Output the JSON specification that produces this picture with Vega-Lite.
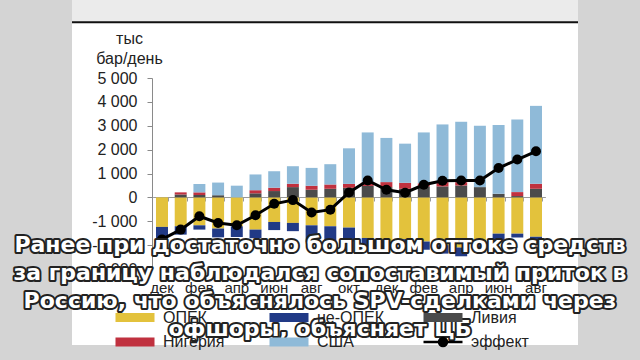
{
  "$schema": "https://vega.github.io/schema/vega-lite/v6.json",
  "width": 506,
  "height": 323,
  "autosize": "none",
  "padding": {"left": 72, "top": 22, "right": 62, "bottom": 15},
  "background": "#d4d4d4",
  "config": {
    "view": {"fill": "white", "stroke": null},
    "font": "Liberation Sans"
  },
  "datasets": {
    "bars": [
      {"m": "дек 16", "s": "ОПЕК", "v": -1237}, {"m": "дек 16", "s": "не-ОПЕК", "v": -520},
      {"m": "янв 17", "s": "ОПЕК", "v": -1210}, {"m": "янв 17", "s": "не-ОПЕК", "v": -350}, {"m": "янв 17", "s": "Ливия", "v": 120}, {"m": "янв 17", "s": "Нигерия", "v": 90},
      {"m": "фев 17", "s": "ОПЕК", "v": -1170}, {"m": "фев 17", "s": "не-ОПЕК", "v": -180}, {"m": "фев 17", "s": "Ливия", "v": 100}, {"m": "фев 17", "s": "Нигерия", "v": 110}, {"m": "фев 17", "s": "США", "v": 350},
      {"m": "мар 17", "s": "ОПЕК", "v": -1305}, {"m": "мар 17", "s": "не-ОПЕК", "v": -370}, {"m": "мар 17", "s": "Ливия", "v": 90}, {"m": "мар 17", "s": "США", "v": 530},
      {"m": "апр 17", "s": "ОПЕК", "v": -1210}, {"m": "апр 17", "s": "не-ОПЕК", "v": -450}, {"m": "апр 17", "s": "США", "v": 490},
      {"m": "май 17", "s": "ОПЕК", "v": -1350}, {"m": "май 17", "s": "не-ОПЕК", "v": -360}, {"m": "май 17", "s": "Ливия", "v": 170}, {"m": "май 17", "s": "Нигерия", "v": 130}, {"m": "май 17", "s": "США", "v": 660},
      {"m": "июн 17", "s": "ОПЕК", "v": -1030}, {"m": "июн 17", "s": "не-ОПЕК", "v": -340}, {"m": "июн 17", "s": "Ливия", "v": 265}, {"m": "июн 17", "s": "Нигерия", "v": 140}, {"m": "июн 17", "s": "США", "v": 690},
      {"m": "июл 17", "s": "ОПЕК", "v": -1070}, {"m": "июл 17", "s": "не-ОПЕК", "v": -345}, {"m": "июл 17", "s": "Ливия", "v": 430}, {"m": "июл 17", "s": "Нигерия", "v": 140}, {"m": "июл 17", "s": "США", "v": 735},
      {"m": "авг 17", "s": "ОПЕК", "v": -1170}, {"m": "авг 17", "s": "не-ОПЕК", "v": -690}, {"m": "авг 17", "s": "Ливия", "v": 320}, {"m": "авг 17", "s": "Нигерия", "v": 165}, {"m": "авг 17", "s": "США", "v": 750},
      {"m": "сен 17", "s": "ОПЕК", "v": -1210}, {"m": "сен 17", "s": "не-ОПЕК", "v": -700}, {"m": "сен 17", "s": "Ливия", "v": 360}, {"m": "сен 17", "s": "Нигерия", "v": 180}, {"m": "сен 17", "s": "США", "v": 850},
      {"m": "окт 17", "s": "ОПЕК", "v": -1265}, {"m": "окт 17", "s": "не-ОПЕК", "v": -584}, {"m": "окт 17", "s": "Ливия", "v": 400}, {"m": "окт 17", "s": "Нигерия", "v": 165}, {"m": "окт 17", "s": "США", "v": 1490},
      {"m": "ноя 17", "s": "ОПЕК", "v": -1700}, {"m": "ноя 17", "s": "не-ОПЕК", "v": -313}, {"m": "ноя 17", "s": "Ливия", "v": 480}, {"m": "ноя 17", "s": "Нигерия", "v": 150}, {"m": "ноя 17", "s": "США", "v": 2090},
      {"m": "дек 17", "s": "ОПЕК", "v": -1850}, {"m": "дек 17", "s": "не-ОПЕК", "v": -316}, {"m": "дек 17", "s": "Ливия", "v": 430}, {"m": "дек 17", "s": "Нигерия", "v": 210}, {"m": "дек 17", "s": "США", "v": 1850},
      {"m": "янв 18", "s": "ОПЕК", "v": -1750}, {"m": "янв 18", "s": "не-ОПЕК", "v": -305}, {"m": "янв 18", "s": "Ливия", "v": 360}, {"m": "янв 18", "s": "Нигерия", "v": 250}, {"m": "янв 18", "s": "США", "v": 1640},
      {"m": "фев 18", "s": "ОПЕК", "v": -1850}, {"m": "фев 18", "s": "не-ОПЕК", "v": -343}, {"m": "фев 18", "s": "Ливия", "v": 460}, {"m": "фев 18", "s": "Нигерия", "v": 130}, {"m": "фев 18", "s": "США", "v": 2130},
      {"m": "мар 18", "s": "ОПЕК", "v": -2000}, {"m": "мар 18", "s": "не-ОПЕК", "v": -355}, {"m": "мар 18", "s": "Ливия", "v": 460}, {"m": "мар 18", "s": "Нигерия", "v": 180}, {"m": "мар 18", "s": "США", "v": 2415},
      {"m": "апр 18", "s": "ОПЕК", "v": -2100}, {"m": "апр 18", "s": "не-ОПЕК", "v": -367}, {"m": "апр 18", "s": "Ливия", "v": 500}, {"m": "апр 18", "s": "Нигерия", "v": 140}, {"m": "апр 18", "s": "США", "v": 2527},
      {"m": "май 18", "s": "ОПЕК", "v": -2000}, {"m": "май 18", "s": "не-ОПЕК", "v": -300}, {"m": "май 18", "s": "Ливия", "v": 430}, {"m": "май 18", "s": "США", "v": 2570},
      {"m": "июн 18", "s": "ОПЕК", "v": -1520}, {"m": "июн 18", "s": "не-ОПЕК", "v": -278}, {"m": "июн 18", "s": "Ливия", "v": 150}, {"m": "июн 18", "s": "США", "v": 2880},
      {"m": "июл 18", "s": "ОПЕК", "v": -1520}, {"m": "июл 18", "s": "не-ОПЕК", "v": -161}, {"m": "июл 18", "s": "Ливия", "v": 55}, {"m": "июл 18", "s": "Нигерия", "v": 165}, {"m": "июл 18", "s": "США", "v": 3044},
      {"m": "авг 18", "s": "ОПЕК", "v": -1650}, {"m": "авг 18", "s": "не-ОПЕК", "v": -253}, {"m": "авг 18", "s": "Ливия", "v": 360}, {"m": "авг 18", "s": "Нигерия", "v": 210}, {"m": "авг 18", "s": "США", "v": 3263}
    ],
    "eff": [
      {"m": "дек 16", "e": -1760}, {"m": "янв 17", "e": -1350}, {"m": "фев 17", "e": -790}, {"m": "мар 17", "e": -1070},
      {"m": "апр 17", "e": -1170}, {"m": "май 17", "e": -750}, {"m": "июн 17", "e": -270}, {"m": "июл 17", "e": -115},
      {"m": "авг 17", "e": -630}, {"m": "сен 17", "e": -515}, {"m": "окт 17", "e": 205}, {"m": "ноя 17", "e": 708},
      {"m": "дек 17", "e": 320}, {"m": "янв 18", "e": 195}, {"m": "фев 18", "e": 528}, {"m": "мар 18", "e": 700},
      {"m": "апр 18", "e": 705}, {"m": "май 18", "e": 705}, {"m": "июн 18", "e": 1230}, {"m": "июл 18", "e": 1583},
      {"m": "авг 18", "e": 1930}
    ],
    "sub": [
      {"t": "Ранее при достаточно большом оттоке средств\nза границу наблюдался сопоставимый приток в\nРоссию, что объяснялось SPV-сделками через\nофшоры, объясняет ЦБ"}
    ]
  },
  "layer": [
    {
      "data": {"values": [{}]},
      "mark": {"type": "rect", "color": "#ebebeb", "clip": false},
      "encoding": {"y": {"datum": 7345}, "y2": {"datum": 8300}}
    },
    {
      "data": {"values": [{}]},
      "mark": {"type": "rule", "color": "#111111", "strokeWidth": 2},
      "encoding": {"y": {"datum": 7340}}
    },
    {
      "data": {"name": "bars"},
      "transform": [{"calculate": "indexof(['ОПЕК','не-ОПЕК','Ливия','Нигерия','США'], datum.s)", "as": "o"}],
      "mark": {"type": "bar"},
      "encoding": {
        "x": {
          "field": "m", "type": "nominal", "sort": null,
          "scale": {"range": [80.65, 473.35], "paddingInner": 0.36, "paddingOuter": 0.18},
          "axis": {
            "title": null, "orient": "bottom", "offset": -148,
            "domainColor": "#9a9a9a", "tickColor": "#9a9a9a", "tickBand": "extent", "tickSize": 4,
            "labels": false
          }
        },
        "y": {
          "field": "v", "type": "quantitative", "stack": "zero",
          "scale": {"domain": [-3000, 5000], "range": [247, 56], "nice": false, "zero": false},
          "axis": {
            "title": ["тыс", "бар/день"], "offset": -80,
            "values": [-3000, -2000, -1000, 0, 1000, 2000, 3000, 4000, 5000],
            "labelExpr": "replace(replace(format(datum.value, ','), ',', ' '), '−', '-')",
            "labelFontSize": 16, "labelPadding": 10, "labelColor": "#222222", "tickSize": 5,
            "domainColor": "#8a8a8a", "tickColor": "#8a8a8a", "grid": false,
            "titleAngle": 0, "titleX": -23, "titleY": 21, "titleAlign": "center", "titleBaseline": "alphabetic",
            "titleFontWeight": "normal", "titleFontSize": 16, "titleLineHeight": 20, "titleColor": "#222222"
          }
        },
        "color": {
          "field": "s", "type": "nominal",
          "scale": {
            "domain": ["ОПЕК", "Нигерия", "не-ОПЕК", "США", "Ливия", "эффект"],
            "range": ["#e3c23c", "#c0313f", "#213a86", "#8fbad8", "#4b4b4b", "#000000"]
          },
          "legend": {
            "title": null, "orient": "none", "legendX": 55, "legendY": 287,
            "columns": 3, "gridAlign": "all", "columnPadding": 34, "rowPadding": 7,
            "labelFontSize": 16, "labelColor": "#222222", "labelOffset": 20,
            "symbolSize": 100, "symbolStrokeWidth": 0,
            "encode": {
              "symbols": {
                "update": {
                  "shape": {"signal": "datum.value === 'эффект' ? 'M-3.9,0H3.9M0.8,0A0.8,0.8,0,1,1,-0.8,0A0.8,0.8,0,1,1,0.8,0Z' : 'M-3.9,-0.9H3.9V0.9H-3.9Z'"},
                  "stroke": {"signal": "datum.value === 'эффект' ? '#000000' : 'transparent'"},
                  "strokeWidth": {"signal": "datum.value === 'эффект' ? 2.5 : 0"}
                }
              }
            }
          }
        },
        "order": {"field": "o"}
      }
    },
    {
      "data": {"name": "eff"},
      "transform": [
        {"calculate": "split(datum.m, ' ')[0]", "as": "lab"},
        {"filter": "indexof(['дек','фев','апр','июн','авг','окт'], datum.lab) >= 0"}
      ],
      "mark": {"type": "text", "fontSize": 15, "color": "#222222", "baseline": "middle", "align": "center", "clip": false},
      "encoding": {
        "x": {"field": "m", "type": "nominal", "sort": null},
        "y": {"datum": -3790, "type": "quantitative"},
        "text": {"field": "lab", "type": "nominal"}
      }
    },
    {
      "data": {"name": "eff"},
      "mark": {"type": "line", "color": "#000000", "strokeWidth": 3},
      "encoding": {
        "x": {"field": "m", "type": "nominal", "sort": null},
        "y": {"field": "e", "type": "quantitative"}
      }
    },
    {
      "data": {"name": "eff"},
      "mark": {"type": "circle", "color": "#000000", "size": 100, "opacity": 1},
      "encoding": {
        "x": {"field": "m", "type": "nominal", "sort": null},
        "y": {"field": "e", "type": "quantitative"}
      }
    },
    {
      "data": {"name": "sub"},
      "mark": {"type": "text", "lineBreak": "\n", "lineHeight": 28, "font": "DejaVu Sans", "fontWeight": "bold", "fontSize": 22, "align": "center", "baseline": "top", "dx": -5, "fill": "#222222", "stroke": "#222222", "strokeWidth": 4, "strokeJoin": "round"},
      "encoding": {"text": {"field": "t"}, "y": {"datum": -1555}}
    },
    {
      "data": {"name": "sub"},
      "mark": {"type": "text", "lineBreak": "\n", "lineHeight": 28, "font": "DejaVu Sans", "fontWeight": "bold", "fontSize": 22, "align": "center", "baseline": "top", "dx": -5, "fill": "#ffffff"},
      "encoding": {"text": {"field": "t"}, "y": {"datum": -1555}}
    }
  ]
}
